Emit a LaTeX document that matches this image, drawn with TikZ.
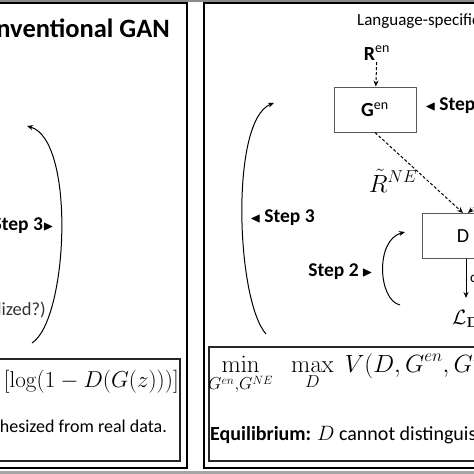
\documentclass[tikz,border=0pt]{standalone}
\usepackage[no-math]{fontspec}
\usepackage{amssymb}
\usepackage{graphicx}
\setmainfont{Carlito}
\usetikzlibrary{arrows.meta}

\newcommand{\rtri}{{\fontsize{14}{14}\selectfont$\blacktriangleright$}}
\newcommand{\ltri}{{\fontsize{14}{14}\selectfont$\blacktriangleleft$}}

\begin{document}
\begin{tikzpicture}[
    x=1pt, y=-1pt,
    lbl/.style={inner sep=0pt, font=\fontsize{19.5}{22}\selectfont\bfseries},
    txt/.style={inner sep=0pt, font=\fontsize{18.5}{22}\selectfont},
    mth/.style={inner sep=0pt, font=\fontsize{20.74}{24}\selectfont},
    box/.style={rectangle, draw=black!65, line width=1pt, minimum width=82pt, minimum height=45pt, inner sep=0pt, font=\fontsize{20}{24}\selectfont},
    frame/.style={draw=black, line width=2.5pt},
    panel/.style={draw=black!85, line width=1.6pt},
    arrow/.style={-{Stealth[length=6pt,width=5pt]}, line width=1pt},
    dasharrow/.style={arrow, dash pattern=on 3pt off 2pt}
]
\useasboundingbox (0,0) rectangle (474,474);
\clip (0,0) rectangle (474,474);

% Frames
\fill[black!45] (0,0) rectangle (474,1.5);
\fill[black!35] (0,470.5) rectangle (474,474);
\draw[frame] (-20,3) rectangle (187,468);
\draw[frame] (204,3) rectangle (500,468);
\draw[panel] (-20,359) rectangle (180,461);
\draw[panel] (209,347) rectangle (500,461);

% Conventional GAN
\node[lbl, anchor=base east, font=\fontsize{26.5}{30}\selectfont\bfseries] (title) at (170,37) {Conventional GAN};
\node[lbl, anchor=base east] (stepL) at (54,230) {Step 3\rtri};
\node[txt, anchor=base east, text=black!80] (genq) at (46,315) {(generalized?)};
\coordinate (lbot) at (32,343);
\coordinate (ltop) at (27,126);
\draw[arrow] (lbot) .. controls (68,320) and (76,140) .. (ltop);
\node[mth, anchor=base east] (eqL) at (179,387) {\resizebox{175pt}{!}{$[\log(1-D(G(z)))]$}};
\node[txt, anchor=base east, font=\fontsize{18}{22}\selectfont] (noteL) at (167,432) {synthesized from real data.};

% Language-specific GAN
\node[txt, anchor=base west, font=\fontsize{17}{20}\selectfont] (lang) at (357,25) {Language-specific GAN};
\node[inner sep=0pt, anchor=base, font=\fontsize{20}{24}\selectfont] (ren) at (377,60) {\textbf{R}\textsuperscript{en}};
\node[box] (gen) at (375,109.5) {\textbf{G}\textsuperscript{en}};
\node[lbl, anchor=base west] (stepone) at (425,110) {\ltri\,Step 1};
\node[box] (disc) at (463,236) {D};
\coordinate (gne) at (540,150);
\coordinate (lossin) at (466,298);

\draw[dasharrow, shorten <=2pt] (ren) -- (gen);
\draw[dasharrow] (gen.south) -- (disc.north);
\draw[dasharrow] (gne) -- ([xshift=5pt]disc.north);
\node[mth, anchor=base, font=\fontsize{23}{26}\selectfont] (rne) at (393,192) {$\tilde{R}^{NE}$};
\draw[arrow] ([xshift=3pt]disc.south) -- (lossin);
\node[txt, anchor=base west, font=\fontsize{15}{18}\selectfont] (cls) at (470,282) {classify};
\node[mth, anchor=base west] (loss) at (452,324) {$\mathcal{L}_{\mathbf{D}}$};

% Steps
\node[lbl, anchor=base west] (stepthree) at (250,222) {\ltri\,Step 3};
\node[lbl, anchor=base east] (steptwo) at (373,276) {Step 2\,\rtri};
\coordinate (rbot) at (266,334);
\coordinate (rtop) at (274,103);
\draw[arrow] (rbot) .. controls (236,300) and (230,120) .. (rtop);
\coordinate (sbot) at (400,305);
\coordinate (stop) at (405,232);
\draw[arrow] (sbot) .. controls (378,300) and (375,240) .. (stop);

% Objective
\node[mth, anchor=base west, font=\fontsize{23}{27}\selectfont] (eqR) at (208,372) {$\displaystyle\min_{G^{en},G^{NE}}\;\;\max_{D}\;V(D,G^{en},G^{NE})$};
\node[txt, anchor=base west, font=\fontsize{20}{24}\selectfont] (noteR) at (210,440) {\textbf{Equilibrium:} $D$ cannot distinguish data synthesized from real data.};

\end{tikzpicture}
\end{document}
